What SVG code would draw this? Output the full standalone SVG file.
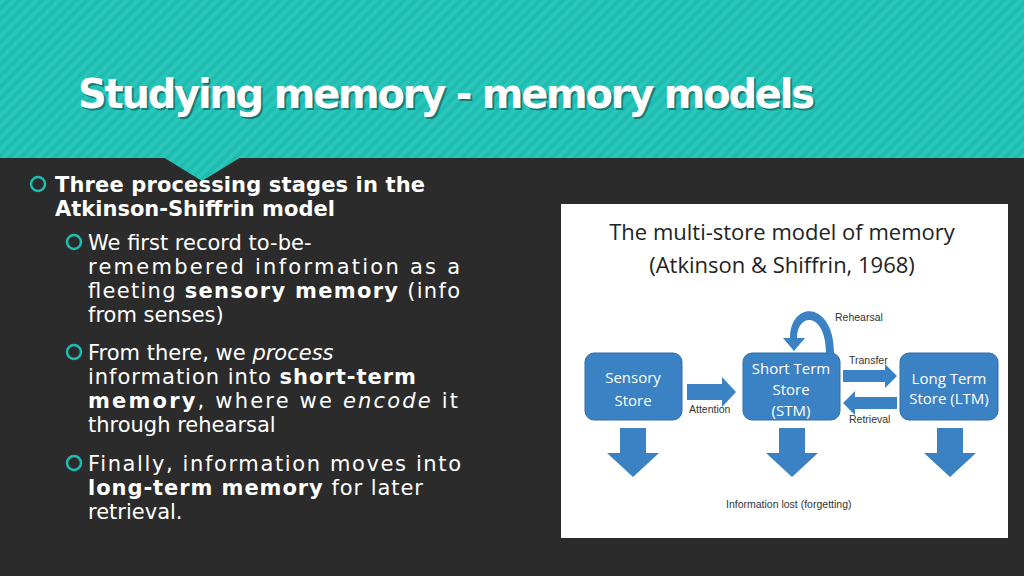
<svg xmlns="http://www.w3.org/2000/svg" width="1024" height="576" viewBox="0 0 1024 576">
<defs>
<pattern id="stripes" width="8" height="8" patternUnits="userSpaceOnUse" patternTransform="rotate(45)">
<rect width="8" height="8" fill="#1fbdb1"/><rect width="4" height="8" fill="#2ac6ba"/>
</pattern>
<style>
.b{font-family:"DejaVu Sans","Liberation Sans",sans-serif;fill:#fff;font-size:21px}
.bb{font-weight:bold}
.bl{fill:none;stroke:#1fbdb1;stroke-width:2.5}
.box{fill:#3b82c4;stroke:#2f6ea8;stroke-width:1}
.bt{font-family:"Open Sans","Liberation Sans",sans-serif;fill:#fff;font-size:15px;text-anchor:middle}
.lb{font-family:"Liberation Sans",sans-serif;font-size:10.5px;fill:#333}
.ar{fill:#3b82c4}
</style>
</defs>
<rect width="1024" height="576" fill="#2b2b2b"/>
<rect width="1024" height="158" fill="url(#stripes)"/>
<polygon points="163,157 241,157 202,181" fill="url(#stripes)"/>
<text x="80" y="110" font-family="DejaVu Sans,sans-serif" font-weight="bold" font-size="40" fill="#000" opacity="0.35" textLength="737">Studying memory - memory models</text>
<text x="78" y="108" font-family="DejaVu Sans,sans-serif" font-weight="bold" font-size="40" fill="#fff" textLength="737">Studying memory - memory models</text>
<g id="body">
<circle class="bl" cx="38" cy="184" r="7"/>
<text class="b bb" x="55" y="192" textLength="370">Three processing stages in the</text>
<text class="b bb" x="55" y="216">Atkinson-Shiffrin model</text>
<circle class="bl" cx="74" cy="242" r="7"/>
<text class="b" x="88" y="250">We first record to-be-</text>
<text class="b" x="88" y="274" textLength="372">remembered information as a</text>
<text class="b" x="88" y="298" textLength="372">fleeting <tspan class="bb">sensory memory</tspan> (info</text>
<text class="b" x="88" y="322">from senses)</text>
<circle class="bl" cx="74" cy="352" r="7"/>
<text class="b" x="88" y="360">From there, we <tspan font-style="italic">process</tspan></text>
<text class="b" x="88" y="384" textLength="328">information into <tspan class="bb">short-term</tspan></text>
<text class="b" x="88" y="408" textLength="370"><tspan class="bb">memory</tspan>, where we <tspan font-style="italic">encode</tspan> it</text>
<text class="b" x="88" y="432">through rehearsal</text>
<circle class="bl" cx="74" cy="463" r="7"/>
<text class="b" x="88" y="471" textLength="373">Finally, information moves into</text>
<text class="b" x="88" y="495" textLength="335"><tspan class="bb">long-term memory</tspan> for later</text>
<text class="b" x="88" y="519">retrieval.</text>
</g>
<rect x="561" y="204" width="447" height="334" fill="#fff"/>
<text x="782" y="240" text-anchor="middle" font-family="Open Sans,Liberation Sans,sans-serif" font-size="22" fill="#222">The multi-store model of memory</text>
<text x="782" y="273" text-anchor="middle" font-family="Open Sans,Liberation Sans,sans-serif" font-size="22" fill="#222">(Atkinson &amp; Shiffrin, 1968)</text>
<g id="sensory"><rect class="box" x="585" y="353" width="97" height="67" rx="9"/><text class="bt" x="633" y="383">Sensory</text><text class="bt" x="633" y="406">Store</text></g>
<g id="stm"><rect class="box" x="743" y="353" width="97" height="67" rx="9"/><text class="bt" x="791" y="374">Short Term</text><text class="bt" x="791" y="395">Store</text><text class="bt" x="791" y="416">(STM)</text></g>
<g id="ltm"><rect class="box" x="900" y="353" width="98" height="67" rx="9"/><text class="bt" x="949" y="384">Long Term</text><text class="bt" x="949" y="404">Store (LTM)</text></g>
<g id="connectors">
<polygon class="ar" points="687,384 722,384 722,377 736,392 722,407 722,400 687,400"/>
<polygon class="ar" points="843,370 885,370 885,364 897,376 885,388 885,382 843,382"/>
<polygon class="ar" points="897,397 855,397 855,391 843,403 855,415 855,409 897,409"/>
<path class="ar" d="M834,353 C834,300 790,300 790,338 L783,338 L794,351 L805,338 L797,338 C797,312 826,312 826,353 Z"/>
<polygon class="ar" points="620,428 646,428 646,453 659,453 633,477 607,453 620,453"/>
<polygon class="ar" points="779,428 805,428 805,453 818,453 792,477 766,453 779,453"/>
<polygon class="ar" points="937,428 963,428 963,453 976,453 950,477 924,453 937,453"/>
</g>
<text class="lb" x="689" y="413">Attention</text>
<text class="lb" x="835" y="321">Rehearsal</text>
<text class="lb" x="849" y="364">Transfer</text>
<text class="lb" x="849" y="423">Retrieval</text>
<text class="lb" x="726" y="508">Information lost (forgetting)</text>
</svg>
